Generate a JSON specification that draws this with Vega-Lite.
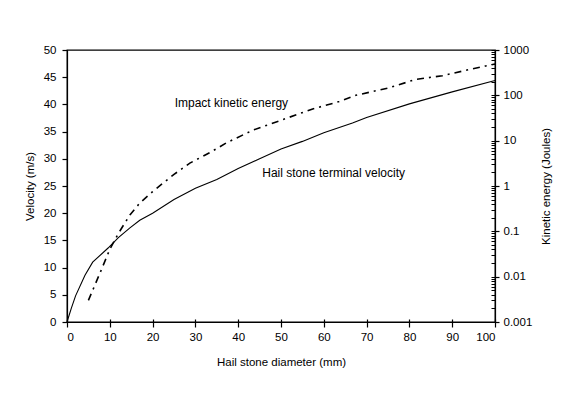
{
  "$schema": "https://vega.github.io/schema/vega-lite/v6.json",
  "width": 428,
  "height": 272,
  "autosize": {"type": "none"},
  "padding": {"left": 67, "top": 50, "right": 84, "bottom": 71},
  "background": "white",
  "config": {
    "view": {"stroke": "#000", "strokeWidth": 1.3},
    "font": "Liberation Sans",
    "axis": {
      "domainColor": "#000", "tickColor": "#000", "labelColor": "#000", "titleColor": "#000",
      "labelFont": "Liberation Sans", "titleFont": "Liberation Sans",
      "labelFontSize": 11.5, "titleFontSize": 11.5, "titleFontWeight": "normal",
      "grid": false, "domainWidth": 1.2, "tickWidth": 1.2, "labelOverlap": false
    }
  },
  "datasets": {
    "vel": [
      {"d": 0, "v": 0}, {"d": 1, "v": 2.5}, {"d": 2, "v": 4.8}, {"d": 4.2, "v": 8.6}, {"d": 6, "v": 11},
      {"d": 9.6, "v": 13.6}, {"d": 12, "v": 15.5}, {"d": 14.7, "v": 17.3}, {"d": 17, "v": 18.7},
      {"d": 20, "v": 20}, {"d": 25, "v": 22.5}, {"d": 30, "v": 24.6}, {"d": 35, "v": 26.2},
      {"d": 40, "v": 28.2}, {"d": 45, "v": 30}, {"d": 50, "v": 31.8}, {"d": 55, "v": 33.2},
      {"d": 60, "v": 34.8}, {"d": 66.7, "v": 36.6}, {"d": 70, "v": 37.6}, {"d": 80, "v": 40.1},
      {"d": 90, "v": 42.3}, {"d": 100, "v": 44.4}
    ],
    "ke": [
      {"d": 5, "e": 0.003}, {"d": 6, "e": 0.005}, {"d": 8, "e": 0.014}, {"d": 10, "e": 0.04},
      {"d": 12, "e": 0.09}, {"d": 14.7, "e": 0.23}, {"d": 17, "e": 0.42}, {"d": 20, "e": 0.75},
      {"d": 22.4, "e": 1.15}, {"d": 25, "e": 1.8}, {"d": 28.7, "e": 3.2}, {"d": 33.3, "e": 5.4},
      {"d": 37.2, "e": 8.9}, {"d": 43.4, "e": 17}, {"d": 51.2, "e": 31}, {"d": 57.4, "e": 50},
      {"d": 63.6, "e": 73}, {"d": 67.5, "e": 100}, {"d": 75.3, "e": 147}, {"d": 81.5, "e": 225},
      {"d": 87.7, "e": 270}, {"d": 92.8, "e": 350}, {"d": 97.8, "e": 445}, {"d": 100, "e": 490}
    ],
    "labels": [
      {"d": 38.4, "v": 40.3, "t": "Impact kinetic energy"},
      {"d": 62.3, "v": 27.4, "t": "Hail stone terminal velocity"}
    ]
  },
  "layer": [
    {
      "data": {"name": "vel"},
      "layer": [
        {
          "mark": {"type": "line", "color": "#000", "strokeWidth": 1.1},
          "encoding": {
            "x": {"field": "d", "type": "quantitative",
              "scale": {"domain": [0, 100], "nice": false},
              "axis": {"values": [0,10,20,30,40,50,60,70,80,90,100], "title": "Hail stone diameter (mm)",
                "tickSize": 5, "labelPadding": 4, "titlePadding": 14}},
            "y": {"field": "v", "type": "quantitative",
              "scale": {"domain": [0, 50], "nice": false},
              "axis": {"orient": "left", "values": [0,5,10,15,20,25,30,35,40,45,50], "title": "Velocity (m/s)",
                "tickSize": 5, "labelPadding": 6, "titlePadding": 8, "labelOverlap": false}}
          }
        },
        {
          "data": {"name": "labels"},
          "mark": {"type": "text", "color": "#000", "fontSize": 12, "font": "Liberation Sans"},
          "encoding": {
            "x": {"field": "d", "type": "quantitative",
              "axis": {"values": [0,10,20,30,40,50,60,70,80,90,100], "title": "Hail stone diameter (mm)",
                "tickSize": 5, "labelPadding": 4, "titlePadding": 14}},
            "y": {"field": "v", "type": "quantitative",
              "axis": {"orient": "left", "values": [0,5,10,15,20,25,30,35,40,45,50], "title": "Velocity (m/s)",
                "tickSize": 5, "labelPadding": 6, "titlePadding": 8, "labelOverlap": false}},
            "text": {"field": "t"}
          }
        }
      ]
    },
    {
      "data": {"name": "ke"},
      "mark": {"type": "line", "color": "#000", "strokeWidth": 1.6, "strokeDash": [7, 5, 2, 5]},
      "encoding": {
        "x": {"field": "d", "type": "quantitative", "axis": null},
        "y": {"field": "e", "type": "quantitative",
          "scale": {"type": "log", "domain": [0.001, 1000], "nice": false},
          "axis": {"orient": "right", "values": [0.001, 0.01, 0.1, 1, 10, 100, 1000], "format": "~g",
            "title": "Kinetic energy (Joules)", "titleAngle": 270, "tickSize": 4, "labelPadding": 4, "titlePadding": 20}}
      }
    },
    {
      "data": {"name": "ke"},
      "mark": {"type": "line", "strokeOpacity": 0},
      "encoding": {
        "x": {"field": "d", "type": "quantitative",
          "axis": {"orient": "bottom", "values": [0,10,20,30,40,50,60,70,80,90,100], "labels": false,
            "domain": false, "tickSize": -3, "title": null}},
        "y": {"field": "e", "type": "quantitative",
          "scale": {"type": "log", "domain": [0.001, 1000], "nice": false},
          "axis": {"orient": "right", "labels": false, "domain": false, "tickSize": -4, "title": null, "tickWidth": 1,
            "values": [0.001,0.002,0.003,0.004,0.005,0.006,0.007,0.008,0.009,
              0.01,0.02,0.03,0.04,0.05,0.06,0.07,0.08,0.09,
              0.1,0.2,0.3,0.4,0.5,0.6,0.7,0.8,0.9,
              1,2,3,4,5,6,7,8,9,
              10,20,30,40,50,60,70,80,90,
              100,200,300,400,500,600,700,800,900,1000]}}
      }
    }
  ],
  "resolve": {"scale": {"y": "independent"}, "axis": {"y": "independent", "x": "independent"}}
}
